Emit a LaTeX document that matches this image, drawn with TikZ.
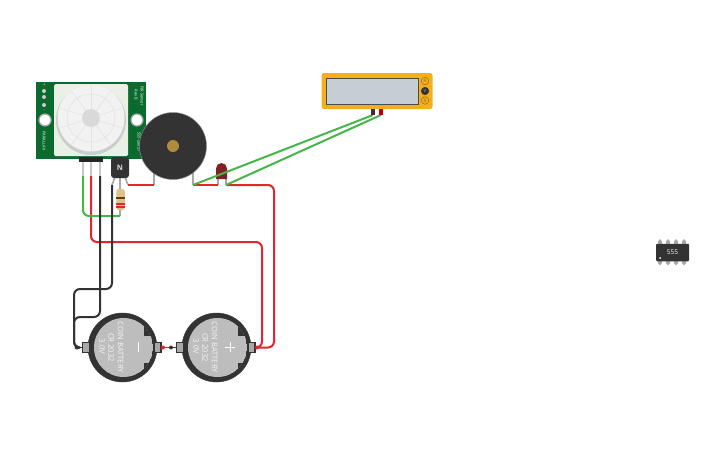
\documentclass[tikz,border=0pt]{standalone}
\usepackage{fontspec}
\setmainfont{Open Sans}
\definecolor{pirgreen}{HTML}{0B6B2E}
\definecolor{pirpanel}{HTML}{E9F1E6}
\definecolor{wirered}{HTML}{E4252B}
\definecolor{wiregreen}{HTML}{45B649}
\definecolor{wireblack}{HTML}{333333}
\definecolor{leggray}{HTML}{A8A8A8}
\definecolor{darkbody}{HTML}{333333}
\definecolor{cellgray}{HTML}{BDBDBD}
\definecolor{meterorange}{HTML}{F4AF1B}
\definecolor{screengray}{HTML}{C5CED2}
\definecolor{restan}{HTML}{E2C088}
\definecolor{buzzgold}{HTML}{B08D3C}
\definecolor{ledred}{HTML}{7E2024}
\definecolor{knobline}{HTML}{8A6A20}
\tikzstyle{wire} = [draw,line width=2pt,rounded corners=6pt]
\tikzstyle{redwire} = [wire,wirered]
\tikzstyle{greenwire} = [wire,wiregreen]
\tikzstyle{blackwire} = [wire,wireblack]
\tikzstyle{leg} = [draw=leggray,line width=1.6pt]
\tikzstyle{pirleg} = [draw=black!22,line width=2.4pt]
\tikzstyle{tiny} = [text=white,font=\fontsize{4}{4.5}\selectfont,inner sep=0pt]
\tikzstyle{celltext} = [text=white!85!cellgray,font=\fontsize{7.6}{9}\selectfont,inner sep=0pt,rotate=-90]
\tikzstyle{cell} = [circle,fill=darkbody,draw=darkbody,minimum size=69pt,inner sep=0pt]
\tikzstyle{celltab} = [draw=darkbody,line width=1.2pt,fill=leggray,minimum width=7pt,minimum height=10pt,inner sep=0pt]
\tikzstyle{tip} = [circle,minimum size=4pt,inner sep=0pt]
\tikzstyle{knob} = [circle,draw=knobline,line width=.5pt,minimum size=7.5pt,inner sep=0pt,text=knobline,font=\fontsize{4.5}{5}\selectfont]
\begin{document}
\begin{tikzpicture}[x=1pt,y=-1pt]
	\useasboundingbox (0,0) rectangle (725,453);
	\fill[white] (0,0) rectangle (725,453);

	% First we name the free ends of the connectors
	\foreach \pos/\name in {{(83,162)/pirout}, {(91,162)/pirvcc}, {(100,162)/pirgnd}, {(115,177)/trleft}, {(120,177)/trmid}, {(125,177)/trright},
		{(112,185)/trleftb}, {(128,185)/trrightb}, {(154,172)/bzleft}, {(193,172)/bzright}, {(154,185)/bzleftb}, {(193,185)/bzrightb},
		{(218,176)/ledleft}, {(226,176)/ledright}, {(218,185)/ledleftb}, {(226,185)/ledrightb},
		{(120,186)/restop}, {(120,216)/resbot}, {(83,176)/piroutb}, {(91,176)/pirvccb}, {(100,176)/pirgndb},
		{(262,242)/railred}, {(274,185)/railout}, {(74,289)/railblacka}, {(74,317)/railblackb},
		{(373,115)/probeblackb}, {(381,115)/proberedb}}
		\node[coordinate] (\name) at \pos {};

	% Parts: the batteries
	\foreach \pos/\name in {{(122.5,347.5)/cella}, {(216.5,347.5)/cellb}}
		\node[cell] (\name) at \pos {};
	\foreach \name in {cella,cellb} {
		\begin{scope}
			\clip ([shift={(1,0)}]\name) circle (29.5);
			\fill[cellgray] ([shift={(1,0)}]\name) circle (29.5);
			\fill[darkbody] ([shift={(21,-24)}]\name) rectangle ([shift={(32,-12)}]\name);
			\fill[darkbody] ([shift={(21,15)}]\name) rectangle ([shift={(32,25)}]\name);
		\end{scope}
		\node[celltext] (\name coin) at ([shift={(-2,0)}]\name) {COIN BATTERY};
		\node[celltext] (\name cr) at ([shift={(-11.5,0)}]\name) {CR 2032};
		\node[celltext] (\name volt) at ([shift={(-20.5,-1)}]\name) {3.0V};
	}
	\foreach \pos/\name in {{(86,347.5)/tabaa}, {(157.5,347.5)/tabab}, {(180,347.5)/tabba}, {(251.5,347.5)/tabbb}}
		\node[celltab] (\name) at \pos {};
	\draw[white,line width=.6pt] (138,342) -- (138,352);
	\draw[white,line width=.6pt] (230,342) -- (230,352) (225,347) -- (235,347);

	% Connectors between the batteries
	\node[tip,fill=wireblack] (tipaminus) at (77,347.5) {};
	\node[tip,fill=wirered] (tipaplus) at (163,347.5) {};
	\node[tip,fill=wireblack] (tipbminus) at (171,347.5) {};
	\node[tip,fill=wirered] (tipbplus) at (257,347.5) {};
	\draw[wireblack,line width=1.5pt] (tabaa) -- (tipaminus);
	\draw[wirered,line width=1.5pt] (tabab) -- (tipaplus);
	\draw[wirered,line width=1.5pt] (tipaplus) -- (tipbminus);
	\draw[wireblack,line width=1.5pt] (tipbminus) -- (tabba);
	\draw[wirered,line width=1.5pt] (tabbb) -- (tipbplus);

	% The PIR sensor
	\node[draw=none,fill=pirgreen,minimum width=110pt,minimum height=77pt,inner sep=0pt] (pir) at (91,120) {};
	\fill[black!85] (79,157) rectangle (103,162);
	\fill[pirpanel,rounded corners=1.5pt] (54,84) rectangle (128,156);
	\fill[black!20] (91,120) circle (35);
	\fill[black!5] (91,118) circle (33.5);
	\foreach \a in {0,36,...,324}
		\draw[black!11,line width=.6pt] (91,118) ++(\a+18:9) -- ++(\a+18:24);
	\draw[black!11,line width=.6pt] (91,118) circle (24);
	\fill[black!15] (91,118) circle (9);
	\foreach \pos/\name in {{(45,120)/holea}, {(137,120)/holeb}}
		\node[circle,fill=white,draw=black!35,line width=1.2pt,minimum size=12pt,inner sep=0pt] (\name) at \pos {};
	\foreach \y in {91,97,105}
		\fill[white!80!black] (44,\y) circle (2);
	\node[tiny,rotate=-90] (pirplus) at (44,85) {+};
	\node[tiny,rotate=-90] (pirminus) at (44,110) {-};
	\node[tiny,rotate=-90] (parallax) at (44,141) {PARALLAX};
	\node[tiny,rotate=-90] (pirname) at (142,96) {PIR Sensor};
	\node[tiny,rotate=-90] (pirrev) at (136,95) {Rev B};
	\node[tiny,rotate=-90] (pirnum) at (139,142) {555-28027};

	% The buzzer
	\draw[leg] (bzleft) -- (bzleftb);
	\draw[leg] (bzright) -- (bzrightb);
	\node[circle,fill=darkbody,draw=black!45,line width=.5pt,minimum size=67pt,inner sep=0pt] (buzzer) at (173,146) {};
	\node[circle,fill=buzzgold,minimum size=12pt,inner sep=0pt] (buzzerhole) at (173,146) {};

	% Legs and the connectors
	\draw[pirleg] (pirout) -- (piroutb);
	\draw[pirleg] (pirvcc) -- (pirvccb);
	\draw[pirleg] (pirgnd) -- (pirgndb);
	\draw[leg] (trleft) -- (trleftb);
	\draw[leg] (trmid) -- (restop);
	\draw[leg] (trright) -- (trrightb);
	\draw[leg] (ledleft) -- (ledleftb);
	\draw[leg] (ledright) -- (ledrightb);

	\path[redwire] (pirvccb) |- (railred) |- (tipbplus);
	\path[redwire] (ledrightb) -- (railout) |- (tipbplus);
	\path[redwire] (trrightb) -- (bzleftb);
	\path[redwire] (bzrightb) -- (ledleftb);
	\draw[leg] (restop) -- (resbot);
	\path[greenwire] (piroutb) |- (resbot);
	\path[blackwire] (pirgndb) |- (railblackb) |- (tipaminus);
	\path[blackwire] (trleftb) |- (railblacka) |- (tipaminus);

	% The transistor, the resistor and the LED
	\node[draw=none,fill=darkbody,rounded corners=3pt,minimum width=18pt,minimum height=21pt,inner sep=0pt,text=white!85!black,font=\fontsize{7.5}{8}\selectfont\bfseries] (transistor) at (120,167.5) {N};
	\node[draw=none,fill=restan,rounded corners=2.5pt,minimum width=8.5pt,minimum height=21pt,inner sep=0pt] (resistor) at (120.5,199.5) {};
	\fill[black!50!brown] (116.2,197) rectangle (124.8,199.2);
	\fill[wirered] (116.2,202.5) rectangle (124.8,204.5);
	\fill[wirered] (116.2,206) rectangle (124.8,208);
	\fill[ledred] (216,179) -- (216,168.5) arc (180:360:5.5) -- (227,179) -- cycle;

	% The multimeter
	\node[draw=none,fill=meterorange,rounded corners=2.5pt,minimum width=111pt,minimum height=36pt,inner sep=0pt] (meter) at (377,91) {};
	\node[draw=black!70,line width=1pt,fill=screengray,minimum width=92pt,minimum height=26pt,inner sep=0pt] (screen) at (372,91) {};
	\node[knob] (knoba) at (425,81) {A};
	\node[knob,fill=darkbody,draw=darkbody,text=white!70!black] (knobv) at (425,91) {V};
	\node[knob] (knobr) at (425,100.5) {R};
	\path[greenwire] (bzrightb) -- (probeblackb);
	\path[greenwire] (ledrightb) -- (proberedb);
	\node[draw=none,fill=wireblack,minimum width=4.5pt,minimum height=6pt,inner sep=0pt] (probeblack) at (373,111.5) {};
	\node[draw=none,fill=red!75!black,minimum width=4.5pt,minimum height=6pt,inner sep=0pt] (probered) at (381,111.5) {};

	% The chip
	\foreach \x in {660,668,676,684} {
		\fill[leggray] (\x-2,245) -- (\x-2,241.5) -- (\x,239) -- (\x+2,241.5) -- (\x+2,245) -- cycle;
		\fill[leggray] (\x-2,260) -- (\x-2,263) -- (\x,265.5) -- (\x+2,263) -- (\x+2,260) -- cycle;
	}
	\node[draw=none,fill=darkbody,rounded corners=1pt,minimum width=33pt,minimum height=17.5pt,inner sep=0pt,text=white,font=\fontsize{6.5}{7}\selectfont] (chip) at (672.5,252.5) {555};
	\fill[white] (660,258) circle (1);
\end{tikzpicture}
\end{document}
